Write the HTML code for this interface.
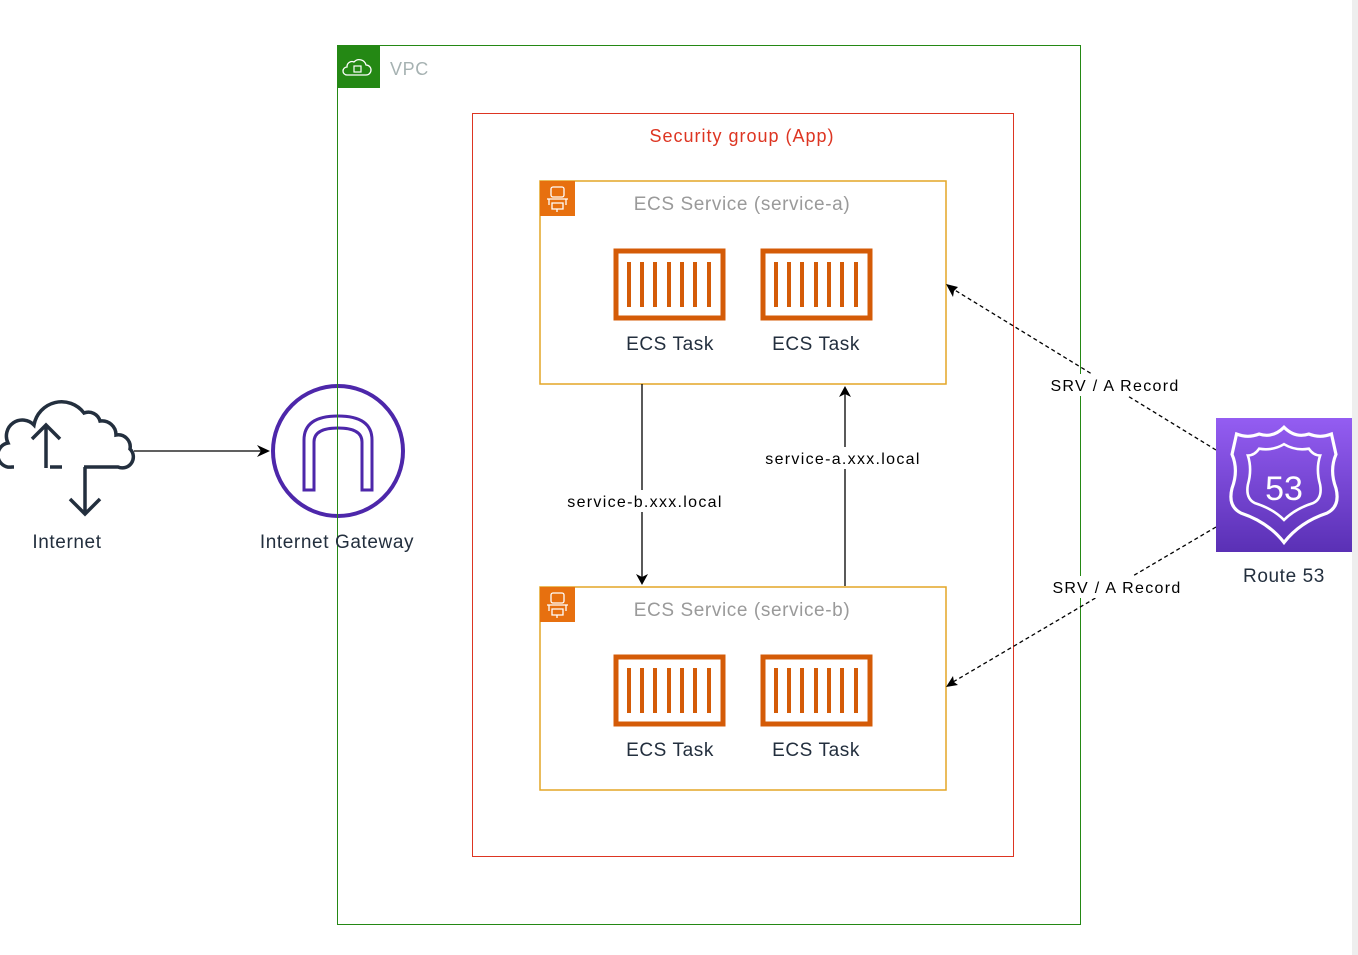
<!DOCTYPE html>
<html><head><meta charset="utf-8"><style>
html,body{margin:0;padding:0;background:#fff;}
svg{display:block;font-family:"Liberation Sans",sans-serif;}
.big{letter-spacing:0.6px}
.sm{letter-spacing:1.3px}
</style></head><body>
<svg width="1358" height="955" viewBox="0 0 1358 955" xmlns="http://www.w3.org/2000/svg">
<defs>
<linearGradient id="r53" x1="0" y1="0" x2="0" y2="1"><stop offset="0" stop-color="#945df2"/><stop offset="1" stop-color="#5a30b5"/></linearGradient>
<g id="task">
<rect x="2" y="2" width="107" height="67" fill="none" stroke="#d45b07" stroke-width="5"/>
<g stroke="#d45b07" stroke-width="4">
<line x1="15" y1="13" x2="15" y2="58"/><line x1="28" y1="13" x2="28" y2="58"/><line x1="41" y1="13" x2="41" y2="58"/><line x1="55" y1="13" x2="55" y2="58"/><line x1="68" y1="13" x2="68" y2="58"/><line x1="81" y1="13" x2="81" y2="58"/><line x1="95" y1="13" x2="95" y2="58"/>
</g></g>
<g id="ecsicon">
<rect width="35" height="35" fill="#e7700f"/>
<g fill="none" stroke="#fff" stroke-width="1.3"><rect x="11" y="6" width="13" height="10" rx="2"/><path d="M7 18 h21 M9 18 v6 M26 18 v6 M12 22 h11 v6 h-11z M17 28 v3"/></g>
</g>
</defs>
<rect x="1352" y="0" width="6" height="955" fill="#eee"/>
<!-- VPC -->
<rect x="337.5" y="45.5" width="743" height="879" fill="none" stroke="#248814" stroke-width="1"/>
<rect x="337" y="45" width="43" height="43" fill="#248814"/>
<path d="M347 75 h19 a5 5 0 0 0 0-10 a7 7 0 0 0-12-3 a5 5 0 0 0-7 5 a4 4 0 0 0 0 8z" fill="none" stroke="#fff" stroke-width="1.3"/>
<rect x="354" y="66" width="7" height="6" fill="none" stroke="#fff" stroke-width="1.2"/>
<text x="390" y="75" font-size="18" fill="#a6b2b2" class="big">VPC</text>
<!-- SG -->
<rect x="472.5" y="113.5" width="541" height="743" fill="none" stroke="#dd3522" stroke-width="1"/>
<text x="742" y="142" font-size="18" fill="#dd3522" text-anchor="middle" style="letter-spacing:1px">Security group (App)</text>
<!-- Service A -->
<rect x="540" y="181" width="406" height="203" fill="none" stroke="#e4a626" stroke-width="1.5"/>
<use href="#ecsicon" x="540" y="181"/>
<text x="742" y="210" font-size="19" fill="#9a9a9a" text-anchor="middle" class="big">ECS Service (service-a)</text>
<use href="#task" x="614" y="249"/><use href="#task" x="761" y="249"/>
<text x="670" y="350" font-size="19" fill="#232f3e" text-anchor="middle" class="big">ECS Task</text>
<text x="816" y="350" font-size="19" fill="#232f3e" text-anchor="middle" class="big">ECS Task</text>
<!-- Service B -->
<rect x="540" y="587" width="406" height="203" fill="none" stroke="#e4a626" stroke-width="1.5"/>
<use href="#ecsicon" x="540" y="587"/>
<text x="742" y="616" font-size="19" fill="#9a9a9a" text-anchor="middle" class="big">ECS Service (service-b)</text>
<use href="#task" x="614" y="655"/><use href="#task" x="761" y="655"/>
<text x="670" y="756" font-size="19" fill="#232f3e" text-anchor="middle" class="big">ECS Task</text>
<text x="816" y="756" font-size="19" fill="#232f3e" text-anchor="middle" class="big">ECS Task</text>
<!-- arrows between services -->
<line x1="642" y1="384" x2="642" y2="578" stroke="#000" stroke-width="1.3"/>
<path d="M636 574 L642 585 L648 574 L642 577z" fill="#000"/>
<rect x="566" y="490" width="158" height="22" fill="#fff"/>
<text x="645" y="507" font-size="16" fill="#000" text-anchor="middle" class="sm">service-b.xxx.local</text>
<line x1="845" y1="586" x2="845" y2="393" stroke="#000" stroke-width="1.3"/>
<path d="M839 397 L845 386 L851 397 L845 394z" fill="#000"/>
<rect x="764" y="447" width="158" height="22" fill="#fff"/>
<text x="843" y="464" font-size="16" fill="#000" text-anchor="middle" class="sm">service-a.xxx.local</text>
<!-- Route53 dashed -->
<line x1="1216" y1="450" x2="953" y2="289" stroke="#000" stroke-width="1.3" stroke-dasharray="4,3"/>
<path d="M946 284 L958 287 L954 291 L953 297z" fill="#000"/>
<rect x="1046" y="374" width="138" height="22" fill="#fff"/>
<text x="1115" y="391" font-size="16" fill="#000" text-anchor="middle" class="sm">SRV / A Record</text>
<line x1="1216" y1="527" x2="953" y2="682" stroke="#000" stroke-width="1.3" stroke-dasharray="4,3"/>
<path d="M946 687 L953 676 L954 682 L958 685z" fill="#000"/>
<rect x="1048" y="576" width="138" height="22" fill="#fff"/>
<text x="1117" y="593" font-size="16" fill="#000" text-anchor="middle" class="sm">SRV / A Record</text>
<!-- Route 53 icon -->
<rect x="1216" y="418" width="136" height="134" fill="url(#r53)"/>
<g transform="translate(1284 486) scale(1.13) translate(-1284 -486)">
<path d="M1284 434 q10 10 22 6 q10 4 20 0 l4 18 q-6 14 0 30 q4 16 -8 22 q-24 8 -38 26 q-14 -18 -38 -26 q-12 -6 -8 -22 q6 -16 0 -30 l4 -18 q10 4 20 0 q12 4 22 -6z" fill="none" stroke="#fff" stroke-width="2.8"/>
<path d="M1284 449 q10 6 22 4 q4 6 10 6 q-4 12 0 26 q2 12 -6 16 q-16 5 -26 15 q-10 -10 -26 -15 q-8 -4 -6 -16 q4 -14 0 -26 q6 0 10 -6 q12 2 22 -4z" fill="none" stroke="#fff" stroke-width="2.3"/>
</g>
<text x="1284" y="500" font-size="34" fill="#fff" text-anchor="middle">53</text>
<text x="1284" y="582" font-size="19" fill="#232f3e" text-anchor="middle" class="big">Route 53</text>
<!-- Internet -->
<path d="M14 467 h-2 a12 12 0 0 1 -4 -24 a16 16 0 0 1 26 -18 a28 28 0 0 1 50 -12 a12 12 0 0 1 16 8 a14 14 0 0 1 16 14 a12 12 0 0 1 14 14 a11 11 0 0 1 -12 18 h-34" fill="none" stroke="#232f3e" stroke-width="3.5"/>
<path d="M50 467 h12" stroke="#232f3e" stroke-width="3.5"/>
<path d="M46 468 v-43 M32 439 l14 -14 l14 14" fill="none" stroke="#232f3e" stroke-width="3.5"/>
<path d="M85 467 v47 M70 499 l15 15 l15 -15" fill="none" stroke="#232f3e" stroke-width="3.5"/>
<text x="67" y="548" font-size="19" fill="#232f3e" text-anchor="middle" class="big">Internet</text>
<line x1="134" y1="451" x2="262" y2="451" stroke="#000" stroke-width="1.3"/>
<path d="M270 451 L257 445 L261 451 L257 457z" fill="#000"/>
<!-- IGW -->
<circle cx="338" cy="451" r="65" fill="none" stroke="#4d27aa" stroke-width="4"/>
<path d="M304 490 v-50 q0-24 34-24 q34 0 34 24 v50 h-10 v-48 q0-14 -24-14 q-24 0 -24 14 v48z" fill="none" stroke="#4d27aa" stroke-width="3"/>
<line x1="337.5" y1="380" x2="337.5" y2="560" stroke="#248814" stroke-width="1"/>
<text x="337" y="548" font-size="19" fill="#232f3e" text-anchor="middle" class="big">Internet Gateway</text>
</svg>
</body></html>
